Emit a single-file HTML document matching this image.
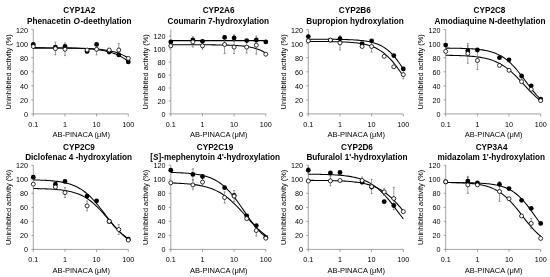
<!DOCTYPE html><html><head><meta charset="utf-8"><style>html,body{margin:0;padding:0;background:#fff;width:550px;height:277px;overflow:hidden}svg{display:block}</style></head><body>
<svg width="550" height="277" viewBox="0 0 550 277" font-family="Liberation Sans, Arial, sans-serif">
<rect width="550" height="277" fill="#fff"/>
<text x="79.3" y="13.4" font-size="8.2" font-weight="bold" text-anchor="middle" fill="#000">CYP1A2</text>
<text x="79.3" y="24.1" font-size="8.2" font-weight="bold" text-anchor="middle" fill="#000">Phenacetin <tspan font-style="italic" dx="0.4">O</tspan><tspan dx="0.8">-deethylation</tspan></text>
<path d="M33.3 29.6V113.9H128.3" fill="none" stroke="#8c8c8c" stroke-width="0.8"/>
<path d="M31.3 113.9H33.3" stroke="#8c8c8c" stroke-width="0.8"/>
<text x="28.1" y="116.8" font-size="7.2" text-anchor="end" fill="#000">0</text>
<path d="M31.3 99.9H33.3" stroke="#8c8c8c" stroke-width="0.8"/>
<text x="28.1" y="102.8" font-size="7.2" text-anchor="end" fill="#000">20</text>
<path d="M31.3 85.8H33.3" stroke="#8c8c8c" stroke-width="0.8"/>
<text x="28.1" y="88.7" font-size="7.2" text-anchor="end" fill="#000">40</text>
<path d="M31.3 71.8H33.3" stroke="#8c8c8c" stroke-width="0.8"/>
<text x="28.1" y="74.7" font-size="7.2" text-anchor="end" fill="#000">60</text>
<path d="M31.3 57.7H33.3" stroke="#8c8c8c" stroke-width="0.8"/>
<text x="28.1" y="60.6" font-size="7.2" text-anchor="end" fill="#000">80</text>
<path d="M31.3 43.6H33.3" stroke="#8c8c8c" stroke-width="0.8"/>
<text x="28.1" y="46.5" font-size="7.2" text-anchor="end" fill="#000">100</text>
<path d="M31.3 29.6H33.3" stroke="#8c8c8c" stroke-width="0.8"/>
<text x="28.1" y="32.5" font-size="7.2" text-anchor="end" fill="#000">120</text>
<path d="M33.3 113.9V116.4" stroke="#8c8c8c" stroke-width="0.8"/>
<text x="33.3" y="126.5" font-size="7.2" text-anchor="middle" fill="#000">0.1</text>
<path d="M65.0 113.9V116.4" stroke="#8c8c8c" stroke-width="0.8"/>
<text x="65.0" y="126.5" font-size="7.2" text-anchor="middle" fill="#000">1</text>
<path d="M96.6 113.9V116.4" stroke="#8c8c8c" stroke-width="0.8"/>
<text x="96.6" y="126.5" font-size="7.2" text-anchor="middle" fill="#000">10</text>
<path d="M128.3 113.9V116.4" stroke="#8c8c8c" stroke-width="0.8"/>
<text x="128.3" y="126.5" font-size="7.2" text-anchor="middle" fill="#000">100</text>
<text x="81.3" y="137.2" font-size="7.5" text-anchor="middle" fill="#000">AB-PINACA (μM)</text>
<text transform="translate(10.9 71.8) rotate(-90)" font-size="7.4" text-anchor="middle" fill="#000">Uninhibited activity (%)</text>
<polyline points="33.30,47.88 34.88,47.88 36.47,47.89 38.05,47.89 39.63,47.89 41.22,47.90 42.80,47.90 44.38,47.90 45.97,47.91 47.55,47.91 49.13,47.92 50.72,47.93 52.30,47.93 53.88,47.94 55.47,47.95 57.05,47.96 58.63,47.97 60.22,47.99 61.80,48.00 63.38,48.02 64.97,48.04 66.55,48.06 68.13,48.08 69.72,48.11 71.30,48.14 72.88,48.17 74.47,48.21 76.05,48.25 77.63,48.29 79.22,48.34 80.80,48.40 82.38,48.47 83.97,48.54 85.55,48.62 87.13,48.71 88.72,48.82 90.30,48.93 91.88,49.06 93.47,49.20 95.05,49.36 96.63,49.54 98.22,49.73 99.80,49.96 101.38,50.20 102.97,50.48 104.55,50.78 106.13,51.12 107.72,51.49 109.30,51.91 110.88,52.37 112.47,52.88 114.05,53.44 115.63,54.05 117.22,54.73 118.80,55.47 120.38,56.28 121.97,57.16 123.55,58.12 125.13,59.16 126.72,60.28 128.30,61.48" fill="none" stroke="#000" stroke-width="1.05"/>
<polyline points="33.30,47.88 34.88,47.88 36.47,47.88 38.05,47.88 39.63,47.88 41.22,47.89 42.80,47.89 44.38,47.89 45.97,47.90 47.55,47.90 49.13,47.90 50.72,47.91 52.30,47.91 53.88,47.92 55.47,47.92 57.05,47.93 58.63,47.94 60.22,47.95 61.80,47.96 63.38,47.97 64.97,47.98 66.55,48.00 68.13,48.02 69.72,48.03 71.30,48.05 72.88,48.08 74.47,48.10 76.05,48.13 77.63,48.16 79.22,48.20 80.80,48.24 82.38,48.29 83.97,48.34 85.55,48.40 87.13,48.46 88.72,48.53 90.30,48.61 91.88,48.70 93.47,48.80 95.05,48.91 96.63,49.04 98.22,49.18 99.80,49.34 101.38,49.51 102.97,49.71 104.55,49.93 106.13,50.17 107.72,50.44 109.30,50.74 110.88,51.07 112.47,51.44 114.05,51.85 115.63,52.31 117.22,52.81 118.80,53.36 120.38,53.97 121.97,54.64 123.55,55.37 125.13,56.17 126.72,57.04 128.30,57.99" fill="none" stroke="#000" stroke-width="1.05"/>
<path d="M55.4 54.9V42.2M54.4 54.9h2M54.4 42.2h2" stroke="#555" stroke-width="0.6" fill="none"/>
<path d="M65.0 55.6V42.9M64.0 55.6h2M64.0 42.9h2" stroke="#555" stroke-width="0.6" fill="none"/>
<path d="M96.6 54.9V43.6M95.6 54.9h2M95.6 43.6h2" stroke="#555" stroke-width="0.6" fill="none"/>
<path d="M118.8 56.3V43.6M117.8 56.3h2M117.8 43.6h2" stroke="#555" stroke-width="0.6" fill="none"/>
<circle cx="33.3" cy="44.4" r="2.4" fill="#000"/>
<circle cx="55.4" cy="47.2" r="2.4" fill="#000"/>
<circle cx="65.0" cy="46.5" r="2.4" fill="#000"/>
<circle cx="87.1" cy="51.4" r="2.4" fill="#000"/>
<circle cx="96.6" cy="44.4" r="2.4" fill="#000"/>
<circle cx="109.2" cy="52.1" r="2.4" fill="#000"/>
<circle cx="118.8" cy="54.9" r="2.4" fill="#000"/>
<circle cx="128.3" cy="61.9" r="2.4" fill="#000"/>
<circle cx="33.3" cy="46.5" r="2.0" fill="#fff" stroke="#000" stroke-width="0.8"/>
<circle cx="55.4" cy="48.6" r="2.0" fill="#fff" stroke="#000" stroke-width="0.8"/>
<circle cx="65.0" cy="49.3" r="2.0" fill="#fff" stroke="#000" stroke-width="0.8"/>
<circle cx="87.1" cy="50.0" r="2.0" fill="#fff" stroke="#000" stroke-width="0.8"/>
<circle cx="96.6" cy="49.3" r="2.0" fill="#fff" stroke="#000" stroke-width="0.8"/>
<circle cx="109.2" cy="50.0" r="2.0" fill="#fff" stroke="#000" stroke-width="0.8"/>
<circle cx="118.8" cy="50.0" r="2.0" fill="#fff" stroke="#000" stroke-width="0.8"/>
<circle cx="128.3" cy="58.4" r="2.0" fill="#fff" stroke="#000" stroke-width="0.8"/>
<text x="218.6" y="13.4" font-size="8.2" font-weight="bold" text-anchor="middle" fill="#000">CYP2A6</text>
<text x="218.3" y="24.1" font-size="8.2" font-weight="bold" text-anchor="middle" fill="#000">Coumarin 7-hydroxylation</text>
<path d="M170.8 29.6V113.9H265.8" fill="none" stroke="#8c8c8c" stroke-width="0.8"/>
<path d="M168.8 113.9H170.8" stroke="#8c8c8c" stroke-width="0.8"/>
<text x="165.6" y="116.8" font-size="7.2" text-anchor="end" fill="#000">0</text>
<path d="M168.8 100.9H170.8" stroke="#8c8c8c" stroke-width="0.8"/>
<text x="165.6" y="103.8" font-size="7.2" text-anchor="end" fill="#000">20</text>
<path d="M168.8 88.0H170.8" stroke="#8c8c8c" stroke-width="0.8"/>
<text x="165.6" y="90.9" font-size="7.2" text-anchor="end" fill="#000">40</text>
<path d="M168.8 75.0H170.8" stroke="#8c8c8c" stroke-width="0.8"/>
<text x="165.6" y="77.9" font-size="7.2" text-anchor="end" fill="#000">60</text>
<path d="M168.8 62.0H170.8" stroke="#8c8c8c" stroke-width="0.8"/>
<text x="165.6" y="64.9" font-size="7.2" text-anchor="end" fill="#000">80</text>
<path d="M168.8 49.1H170.8" stroke="#8c8c8c" stroke-width="0.8"/>
<text x="165.6" y="52.0" font-size="7.2" text-anchor="end" fill="#000">100</text>
<path d="M168.8 36.1H170.8" stroke="#8c8c8c" stroke-width="0.8"/>
<text x="165.6" y="39.0" font-size="7.2" text-anchor="end" fill="#000">120</text>
<path d="M170.8 113.9V116.4" stroke="#8c8c8c" stroke-width="0.8"/>
<text x="170.8" y="126.5" font-size="7.2" text-anchor="middle" fill="#000">0.1</text>
<path d="M202.5 113.9V116.4" stroke="#8c8c8c" stroke-width="0.8"/>
<text x="202.5" y="126.5" font-size="7.2" text-anchor="middle" fill="#000">1</text>
<path d="M234.1 113.9V116.4" stroke="#8c8c8c" stroke-width="0.8"/>
<text x="234.1" y="126.5" font-size="7.2" text-anchor="middle" fill="#000">10</text>
<path d="M265.8 113.9V116.4" stroke="#8c8c8c" stroke-width="0.8"/>
<text x="265.8" y="126.5" font-size="7.2" text-anchor="middle" fill="#000">100</text>
<text x="218.8" y="137.2" font-size="7.5" text-anchor="middle" fill="#000">AB-PINACA (μM)</text>
<text transform="translate(148.4 71.8) rotate(-90)" font-size="7.4" text-anchor="middle" fill="#000">Uninhibited activity (%)</text>
<polyline points="170.80,40.62 172.38,40.62 173.97,40.62 175.55,40.62 177.13,40.62 178.72,40.62 180.30,40.62 181.88,40.62 183.47,40.62 185.05,40.62 186.63,40.62 188.22,40.62 189.80,40.62 191.38,40.62 192.97,40.62 194.55,40.62 196.13,40.62 197.72,40.62 199.30,40.62 200.88,40.62 202.47,40.62 204.05,40.62 205.63,40.62 207.22,40.62 208.80,40.62 210.38,40.62 211.97,40.62 213.55,40.62 215.13,40.62 216.72,40.62 218.30,40.62 219.88,40.62 221.47,40.62 223.05,40.62 224.63,40.62 226.22,40.62 227.80,40.62 229.38,40.62 230.97,40.62 232.55,40.62 234.13,40.62 235.72,40.62 237.30,40.62 238.88,40.62 240.47,40.63 242.05,40.63 243.63,40.63 245.22,40.63 246.80,40.63 248.38,40.63 249.97,40.63 251.55,40.63 253.13,40.63 254.72,40.63 256.30,40.63 257.88,40.63 259.47,40.63 261.05,40.63 262.63,40.63 264.22,40.63 265.80,40.63" fill="none" stroke="#000" stroke-width="1.05"/>
<polyline points="170.80,44.78 172.38,44.78 173.97,44.78 175.55,44.78 177.13,44.78 178.72,44.78 180.30,44.78 181.88,44.78 183.47,44.78 185.05,44.78 186.63,44.78 188.22,44.78 189.80,44.79 191.38,44.79 192.97,44.79 194.55,44.79 196.13,44.80 197.72,44.80 199.30,44.80 200.88,44.81 202.47,44.81 204.05,44.82 205.63,44.82 207.22,44.83 208.80,44.84 210.38,44.85 211.97,44.86 213.55,44.87 215.13,44.89 216.72,44.91 218.30,44.92 219.88,44.95 221.47,44.97 223.05,45.00 224.63,45.04 226.22,45.07 227.80,45.12 229.38,45.17 230.97,45.23 232.55,45.29 234.13,45.37 235.72,45.46 237.30,45.56 238.88,45.67 240.47,45.80 242.05,45.95 243.63,46.13 245.22,46.32 246.80,46.54 248.38,46.80 249.97,47.09 251.55,47.42 253.13,47.79 254.72,48.22 256.30,48.70 257.88,49.24 259.47,49.86 261.05,50.55 262.63,51.32 264.22,52.19 265.80,53.16" fill="none" stroke="#000" stroke-width="1.05"/>
<path d="M234.1 41.3V34.8M233.1 41.3h2M233.1 34.8h2" stroke="#555" stroke-width="0.6" fill="none"/>
<path d="M192.9 47.1V36.7M191.9 47.1h2M191.9 36.7h2" stroke="#555" stroke-width="0.6" fill="none"/>
<path d="M202.5 49.1V42.6M201.5 49.1h2M201.5 42.6h2" stroke="#555" stroke-width="0.6" fill="none"/>
<path d="M224.6 53.6V35.4M223.6 53.6h2M223.6 35.4h2" stroke="#555" stroke-width="0.6" fill="none"/>
<path d="M234.1 53.6V40.6M233.1 53.6h2M233.1 40.6h2" stroke="#555" stroke-width="0.6" fill="none"/>
<path d="M246.7 52.9V41.3M245.7 52.9h2M245.7 41.3h2" stroke="#555" stroke-width="0.6" fill="none"/>
<path d="M256.3 54.2V36.1M255.3 54.2h2M255.3 36.1h2" stroke="#555" stroke-width="0.6" fill="none"/>
<circle cx="170.8" cy="41.9" r="2.4" fill="#000"/>
<circle cx="192.9" cy="40.0" r="2.4" fill="#000"/>
<circle cx="202.5" cy="41.3" r="2.4" fill="#000"/>
<circle cx="224.6" cy="37.4" r="2.4" fill="#000"/>
<circle cx="234.1" cy="38.0" r="2.4" fill="#000"/>
<circle cx="246.7" cy="40.6" r="2.4" fill="#000"/>
<circle cx="256.3" cy="40.0" r="2.4" fill="#000"/>
<circle cx="265.8" cy="41.9" r="2.4" fill="#000"/>
<circle cx="170.8" cy="45.8" r="2.0" fill="#fff" stroke="#000" stroke-width="0.8"/>
<circle cx="192.9" cy="41.9" r="2.0" fill="#fff" stroke="#000" stroke-width="0.8"/>
<circle cx="202.5" cy="45.8" r="2.0" fill="#fff" stroke="#000" stroke-width="0.8"/>
<circle cx="224.6" cy="44.5" r="2.0" fill="#fff" stroke="#000" stroke-width="0.8"/>
<circle cx="234.1" cy="47.1" r="2.0" fill="#fff" stroke="#000" stroke-width="0.8"/>
<circle cx="246.7" cy="47.1" r="2.0" fill="#fff" stroke="#000" stroke-width="0.8"/>
<circle cx="256.3" cy="45.2" r="2.0" fill="#fff" stroke="#000" stroke-width="0.8"/>
<circle cx="265.8" cy="54.2" r="2.0" fill="#fff" stroke="#000" stroke-width="0.8"/>
<text x="354.8" y="13.4" font-size="8.2" font-weight="bold" text-anchor="middle" fill="#000">CYP2B6</text>
<text x="355.0" y="24.1" font-size="8.2" font-weight="bold" text-anchor="middle" fill="#000">Bupropion hydroxylation</text>
<path d="M308.3 29.6V113.9H403.3" fill="none" stroke="#8c8c8c" stroke-width="0.8"/>
<path d="M306.3 113.9H308.3" stroke="#8c8c8c" stroke-width="0.8"/>
<text x="303.1" y="116.8" font-size="7.2" text-anchor="end" fill="#000">0</text>
<path d="M306.3 99.9H308.3" stroke="#8c8c8c" stroke-width="0.8"/>
<text x="303.1" y="102.8" font-size="7.2" text-anchor="end" fill="#000">20</text>
<path d="M306.3 85.8H308.3" stroke="#8c8c8c" stroke-width="0.8"/>
<text x="303.1" y="88.7" font-size="7.2" text-anchor="end" fill="#000">40</text>
<path d="M306.3 71.8H308.3" stroke="#8c8c8c" stroke-width="0.8"/>
<text x="303.1" y="74.7" font-size="7.2" text-anchor="end" fill="#000">60</text>
<path d="M306.3 57.7H308.3" stroke="#8c8c8c" stroke-width="0.8"/>
<text x="303.1" y="60.6" font-size="7.2" text-anchor="end" fill="#000">80</text>
<path d="M306.3 43.6H308.3" stroke="#8c8c8c" stroke-width="0.8"/>
<text x="303.1" y="46.5" font-size="7.2" text-anchor="end" fill="#000">100</text>
<path d="M306.3 29.6H308.3" stroke="#8c8c8c" stroke-width="0.8"/>
<text x="303.1" y="32.5" font-size="7.2" text-anchor="end" fill="#000">120</text>
<path d="M308.3 113.9V116.4" stroke="#8c8c8c" stroke-width="0.8"/>
<text x="308.3" y="126.5" font-size="7.2" text-anchor="middle" fill="#000">0.1</text>
<path d="M340.0 113.9V116.4" stroke="#8c8c8c" stroke-width="0.8"/>
<text x="340.0" y="126.5" font-size="7.2" text-anchor="middle" fill="#000">1</text>
<path d="M371.6 113.9V116.4" stroke="#8c8c8c" stroke-width="0.8"/>
<text x="371.6" y="126.5" font-size="7.2" text-anchor="middle" fill="#000">10</text>
<path d="M403.3 113.9V116.4" stroke="#8c8c8c" stroke-width="0.8"/>
<text x="403.3" y="126.5" font-size="7.2" text-anchor="middle" fill="#000">100</text>
<text x="356.3" y="137.2" font-size="7.5" text-anchor="middle" fill="#000">AB-PINACA (μM)</text>
<text transform="translate(285.9 71.8) rotate(-90)" font-size="7.4" text-anchor="middle" fill="#000">Uninhibited activity (%)</text>
<polyline points="308.30,39.24 309.88,39.24 311.47,39.24 313.05,39.24 314.63,39.25 316.22,39.25 317.80,39.25 319.38,39.26 320.97,39.26 322.55,39.27 324.13,39.27 325.72,39.28 327.30,39.29 328.88,39.30 330.47,39.31 332.05,39.32 333.63,39.34 335.22,39.35 336.80,39.37 338.38,39.40 339.97,39.42 341.55,39.45 343.13,39.48 344.72,39.52 346.30,39.57 347.88,39.62 349.47,39.67 351.05,39.74 352.63,39.82 354.22,39.90 355.80,40.00 357.38,40.12 358.97,40.25 360.55,40.40 362.13,40.57 363.72,40.76 365.30,40.98 366.88,41.24 368.47,41.53 370.05,41.85 371.63,42.23 373.22,42.65 374.80,43.13 376.38,43.68 377.97,44.29 379.55,44.99 381.13,45.77 382.72,46.64 384.30,47.62 385.88,48.70 387.47,49.90 389.05,51.23 390.63,52.69 392.22,54.28 393.80,56.01 395.38,57.88 396.97,59.88 398.55,62.00 400.13,64.25 401.72,66.60 403.30,69.03" fill="none" stroke="#000" stroke-width="1.05"/>
<polyline points="308.30,41.44 309.88,41.44 311.47,41.44 313.05,41.45 314.63,41.46 316.22,41.46 317.80,41.47 319.38,41.48 320.97,41.49 322.55,41.51 324.13,41.52 325.72,41.54 327.30,41.55 328.88,41.57 330.47,41.60 332.05,41.62 333.63,41.65 335.22,41.69 336.80,41.72 338.38,41.77 339.97,41.82 341.55,41.87 343.13,41.94 344.72,42.01 346.30,42.09 347.88,42.18 349.47,42.28 351.05,42.40 352.63,42.53 354.22,42.68 355.80,42.85 357.38,43.04 358.97,43.26 360.55,43.50 362.13,43.78 363.72,44.09 365.30,44.43 366.88,44.82 368.47,45.26 370.05,45.75 371.63,46.30 373.22,46.91 374.80,47.59 376.38,48.34 377.97,49.18 379.55,50.10 381.13,51.12 382.72,52.23 384.30,53.45 385.88,54.78 387.47,56.22 389.05,57.77 390.63,59.43 392.22,61.20 393.80,63.07 395.38,65.04 396.97,67.10 398.55,69.24 400.13,71.44 401.72,73.69 403.30,75.97" fill="none" stroke="#000" stroke-width="1.05"/>
<path d="M340.0 40.8V36.6M339.0 40.8h2M339.0 36.6h2" stroke="#555" stroke-width="0.6" fill="none"/>
<path d="M340.0 50.0V35.9M339.0 50.0h2M339.0 35.9h2" stroke="#555" stroke-width="0.6" fill="none"/>
<path d="M371.6 52.1V40.8M370.6 52.1h2M370.6 40.8h2" stroke="#555" stroke-width="0.6" fill="none"/>
<path d="M403.3 78.8V70.3M402.3 78.8h2M402.3 70.3h2" stroke="#555" stroke-width="0.6" fill="none"/>
<circle cx="308.3" cy="36.6" r="2.4" fill="#000"/>
<circle cx="330.4" cy="40.1" r="2.4" fill="#000"/>
<circle cx="340.0" cy="38.7" r="2.4" fill="#000"/>
<circle cx="362.1" cy="43.6" r="2.4" fill="#000"/>
<circle cx="371.6" cy="40.8" r="2.4" fill="#000"/>
<circle cx="393.8" cy="55.6" r="2.4" fill="#000"/>
<circle cx="403.3" cy="68.9" r="2.4" fill="#000"/>
<circle cx="308.3" cy="40.8" r="2.0" fill="#fff" stroke="#000" stroke-width="0.8"/>
<circle cx="330.4" cy="40.1" r="2.0" fill="#fff" stroke="#000" stroke-width="0.8"/>
<circle cx="340.0" cy="42.9" r="2.0" fill="#fff" stroke="#000" stroke-width="0.8"/>
<circle cx="362.1" cy="46.5" r="2.0" fill="#fff" stroke="#000" stroke-width="0.8"/>
<circle cx="371.6" cy="46.5" r="2.0" fill="#fff" stroke="#000" stroke-width="0.8"/>
<circle cx="384.2" cy="56.3" r="2.0" fill="#fff" stroke="#000" stroke-width="0.8"/>
<circle cx="393.8" cy="66.8" r="2.0" fill="#fff" stroke="#000" stroke-width="0.8"/>
<circle cx="403.3" cy="74.6" r="2.0" fill="#fff" stroke="#000" stroke-width="0.8"/>
<text x="489.5" y="13.4" font-size="8.2" font-weight="bold" text-anchor="middle" fill="#000">CYP2C8</text>
<text x="490.1" y="24.1" font-size="8.2" font-weight="bold" text-anchor="middle" fill="#000">Amodiaquine N-deethylation</text>
<path d="M445.7 29.6V113.9H540.7" fill="none" stroke="#8c8c8c" stroke-width="0.8"/>
<path d="M443.7 113.9H445.7" stroke="#8c8c8c" stroke-width="0.8"/>
<text x="440.5" y="116.8" font-size="7.2" text-anchor="end" fill="#000">0</text>
<path d="M443.7 99.9H445.7" stroke="#8c8c8c" stroke-width="0.8"/>
<text x="440.5" y="102.8" font-size="7.2" text-anchor="end" fill="#000">20</text>
<path d="M443.7 85.8H445.7" stroke="#8c8c8c" stroke-width="0.8"/>
<text x="440.5" y="88.7" font-size="7.2" text-anchor="end" fill="#000">40</text>
<path d="M443.7 71.8H445.7" stroke="#8c8c8c" stroke-width="0.8"/>
<text x="440.5" y="74.7" font-size="7.2" text-anchor="end" fill="#000">60</text>
<path d="M443.7 57.7H445.7" stroke="#8c8c8c" stroke-width="0.8"/>
<text x="440.5" y="60.6" font-size="7.2" text-anchor="end" fill="#000">80</text>
<path d="M443.7 43.6H445.7" stroke="#8c8c8c" stroke-width="0.8"/>
<text x="440.5" y="46.5" font-size="7.2" text-anchor="end" fill="#000">100</text>
<path d="M443.7 29.6H445.7" stroke="#8c8c8c" stroke-width="0.8"/>
<text x="440.5" y="32.5" font-size="7.2" text-anchor="end" fill="#000">120</text>
<path d="M445.7 113.9V116.4" stroke="#8c8c8c" stroke-width="0.8"/>
<text x="445.7" y="126.5" font-size="7.2" text-anchor="middle" fill="#000">0.1</text>
<path d="M477.4 113.9V116.4" stroke="#8c8c8c" stroke-width="0.8"/>
<text x="477.4" y="126.5" font-size="7.2" text-anchor="middle" fill="#000">1</text>
<path d="M509.0 113.9V116.4" stroke="#8c8c8c" stroke-width="0.8"/>
<text x="509.0" y="126.5" font-size="7.2" text-anchor="middle" fill="#000">10</text>
<path d="M540.7 113.9V116.4" stroke="#8c8c8c" stroke-width="0.8"/>
<text x="540.7" y="126.5" font-size="7.2" text-anchor="middle" fill="#000">100</text>
<text x="493.7" y="137.2" font-size="7.5" text-anchor="middle" fill="#000">AB-PINACA (μM)</text>
<text transform="translate(423.3 71.8) rotate(-90)" font-size="7.4" text-anchor="middle" fill="#000">Uninhibited activity (%)</text>
<polyline points="445.70,48.11 447.28,48.12 448.87,48.13 450.45,48.15 452.03,48.17 453.62,48.20 455.20,48.22 456.78,48.25 458.37,48.28 459.95,48.32 461.53,48.37 463.12,48.42 464.70,48.47 466.28,48.54 467.87,48.61 469.45,48.69 471.03,48.78 472.62,48.89 474.20,49.01 475.78,49.14 477.37,49.30 478.95,49.47 480.53,49.67 482.12,49.89 483.70,50.14 485.28,50.42 486.87,50.74 488.45,51.10 490.03,51.50 491.62,51.96 493.20,52.46 494.78,53.03 496.37,53.66 497.95,54.37 499.53,55.15 501.12,56.01 502.70,56.96 504.28,58.01 505.87,59.15 507.45,60.40 509.03,61.75 510.62,63.20 512.20,64.76 513.78,66.42 515.37,68.18 516.95,70.03 518.53,71.96 520.12,73.96 521.70,76.01 523.28,78.11 524.87,80.22 526.45,82.35 528.03,84.46 529.62,86.54 531.20,88.58 532.78,90.56 534.37,92.46 535.95,94.28 537.53,96.01 539.12,97.64 540.70,99.17" fill="none" stroke="#000" stroke-width="1.05"/>
<polyline points="445.70,55.28 447.28,55.30 448.87,55.33 450.45,55.36 452.03,55.39 453.62,55.42 455.20,55.46 456.78,55.51 458.37,55.56 459.95,55.61 461.53,55.68 463.12,55.75 464.70,55.83 466.28,55.92 467.87,56.02 469.45,56.13 471.03,56.25 472.62,56.39 474.20,56.55 475.78,56.73 477.37,56.92 478.95,57.14 480.53,57.39 482.12,57.66 483.70,57.96 485.28,58.30 486.87,58.68 488.45,59.09 490.03,59.55 491.62,60.06 493.20,60.62 494.78,61.24 496.37,61.91 497.95,62.65 499.53,63.46 501.12,64.34 502.70,65.29 504.28,66.32 505.87,67.42 507.45,68.60 509.03,69.86 510.62,71.20 512.20,72.61 513.78,74.08 515.37,75.62 516.95,77.22 518.53,78.86 520.12,80.54 521.70,82.25 523.28,83.97 524.87,85.69 526.45,87.41 528.03,89.11 529.62,90.78 531.20,92.40 532.78,93.98 534.37,95.49 535.95,96.94 537.53,98.33 539.12,99.63 540.70,100.86" fill="none" stroke="#000" stroke-width="1.05"/>
<path d="M467.8 55.6V45.8M466.8 55.6h2M466.8 45.8h2" stroke="#555" stroke-width="0.6" fill="none"/>
<path d="M467.8 63.3V43.6M466.8 63.3h2M466.8 43.6h2" stroke="#555" stroke-width="0.6" fill="none"/>
<path d="M477.4 69.6V51.4M476.4 69.6h2M476.4 51.4h2" stroke="#555" stroke-width="0.6" fill="none"/>
<circle cx="445.7" cy="45.1" r="2.4" fill="#000"/>
<circle cx="467.8" cy="50.7" r="2.4" fill="#000"/>
<circle cx="477.4" cy="50.0" r="2.4" fill="#000"/>
<circle cx="499.5" cy="57.7" r="2.4" fill="#000"/>
<circle cx="509.0" cy="59.8" r="2.4" fill="#000"/>
<circle cx="521.6" cy="76.0" r="2.4" fill="#000"/>
<circle cx="531.2" cy="85.8" r="2.4" fill="#000"/>
<circle cx="540.7" cy="99.1" r="2.4" fill="#000"/>
<circle cx="445.7" cy="51.4" r="2.0" fill="#fff" stroke="#000" stroke-width="0.8"/>
<circle cx="467.8" cy="53.5" r="2.0" fill="#fff" stroke="#000" stroke-width="0.8"/>
<circle cx="477.4" cy="60.5" r="2.0" fill="#fff" stroke="#000" stroke-width="0.8"/>
<circle cx="499.5" cy="65.4" r="2.0" fill="#fff" stroke="#000" stroke-width="0.8"/>
<circle cx="509.0" cy="70.3" r="2.0" fill="#fff" stroke="#000" stroke-width="0.8"/>
<circle cx="521.6" cy="81.6" r="2.0" fill="#fff" stroke="#000" stroke-width="0.8"/>
<circle cx="531.2" cy="89.3" r="2.0" fill="#fff" stroke="#000" stroke-width="0.8"/>
<circle cx="540.7" cy="100.6" r="2.0" fill="#fff" stroke="#000" stroke-width="0.8"/>
<text x="79.0" y="149.9" font-size="8.2" font-weight="bold" text-anchor="middle" fill="#000">CYP2C9</text>
<text x="78.6" y="160.0" font-size="8.2" font-weight="bold" text-anchor="middle" fill="#000">Diclofenac 4 -hydroxylation</text>
<path d="M33.3 165.3V249.4H128.3" fill="none" stroke="#8c8c8c" stroke-width="0.8"/>
<path d="M31.3 249.4H33.3" stroke="#8c8c8c" stroke-width="0.8"/>
<text x="28.1" y="252.3" font-size="7.2" text-anchor="end" fill="#000">0</text>
<path d="M31.3 235.4H33.3" stroke="#8c8c8c" stroke-width="0.8"/>
<text x="28.1" y="238.3" font-size="7.2" text-anchor="end" fill="#000">20</text>
<path d="M31.3 221.4H33.3" stroke="#8c8c8c" stroke-width="0.8"/>
<text x="28.1" y="224.3" font-size="7.2" text-anchor="end" fill="#000">40</text>
<path d="M31.3 207.4H33.3" stroke="#8c8c8c" stroke-width="0.8"/>
<text x="28.1" y="210.3" font-size="7.2" text-anchor="end" fill="#000">60</text>
<path d="M31.3 193.3H33.3" stroke="#8c8c8c" stroke-width="0.8"/>
<text x="28.1" y="196.2" font-size="7.2" text-anchor="end" fill="#000">80</text>
<path d="M31.3 179.3H33.3" stroke="#8c8c8c" stroke-width="0.8"/>
<text x="28.1" y="182.2" font-size="7.2" text-anchor="end" fill="#000">100</text>
<path d="M31.3 165.3H33.3" stroke="#8c8c8c" stroke-width="0.8"/>
<text x="28.1" y="168.2" font-size="7.2" text-anchor="end" fill="#000">120</text>
<path d="M33.3 249.4V251.9" stroke="#8c8c8c" stroke-width="0.8"/>
<text x="33.3" y="262.0" font-size="7.2" text-anchor="middle" fill="#000">0.1</text>
<path d="M65.0 249.4V251.9" stroke="#8c8c8c" stroke-width="0.8"/>
<text x="65.0" y="262.0" font-size="7.2" text-anchor="middle" fill="#000">1</text>
<path d="M96.6 249.4V251.9" stroke="#8c8c8c" stroke-width="0.8"/>
<text x="96.6" y="262.0" font-size="7.2" text-anchor="middle" fill="#000">10</text>
<path d="M128.3 249.4V251.9" stroke="#8c8c8c" stroke-width="0.8"/>
<text x="128.3" y="262.0" font-size="7.2" text-anchor="middle" fill="#000">100</text>
<text x="81.3" y="272.7" font-size="7.5" text-anchor="middle" fill="#000">AB-PINACA (μM)</text>
<text transform="translate(10.9 207.4) rotate(-90)" font-size="7.4" text-anchor="middle" fill="#000">Uninhibited activity (%)</text>
<polyline points="33.30,179.90 34.88,179.94 36.47,179.98 38.05,180.03 39.63,180.09 41.22,180.15 42.80,180.22 44.38,180.29 45.97,180.38 47.55,180.48 49.13,180.59 50.72,180.72 52.30,180.86 53.88,181.01 55.47,181.19 57.05,181.38 58.63,181.61 60.22,181.85 61.80,182.13 63.38,182.44 64.97,182.78 66.55,183.17 68.13,183.60 69.72,184.07 71.30,184.60 72.88,185.19 74.47,185.83 76.05,186.55 77.63,187.33 79.22,188.20 80.80,189.14 82.38,190.17 83.97,191.29 85.55,192.50 87.13,193.81 88.72,195.21 90.30,196.71 91.88,198.31 93.47,199.99 95.05,201.76 96.63,203.61 98.22,205.53 99.80,207.51 101.38,209.54 102.97,211.60 104.55,213.68 106.13,215.77 107.72,217.85 109.30,219.91 110.88,221.93 112.47,223.89 114.05,225.80 115.63,227.63 117.22,229.38 118.80,231.05 120.38,232.62 121.97,234.10 123.55,235.48 125.13,236.77 126.72,237.96 128.30,239.06" fill="none" stroke="#000" stroke-width="1.05"/>
<polyline points="33.30,188.55 34.88,188.57 36.47,188.60 38.05,188.63 39.63,188.67 41.22,188.71 42.80,188.75 44.38,188.81 45.97,188.86 47.55,188.93 49.13,189.00 50.72,189.09 52.30,189.18 53.88,189.28 55.47,189.40 57.05,189.53 58.63,189.68 60.22,189.85 61.80,190.04 63.38,190.25 64.97,190.49 66.55,190.76 68.13,191.05 69.72,191.39 71.30,191.76 72.88,192.17 74.47,192.63 76.05,193.14 77.63,193.71 79.22,194.33 80.80,195.03 82.38,195.79 83.97,196.62 85.55,197.53 87.13,198.52 88.72,199.60 90.30,200.76 91.88,202.01 93.47,203.35 95.05,204.77 96.63,206.28 98.22,207.86 99.80,209.51 101.38,211.23 102.97,213.00 104.55,214.81 106.13,216.65 107.72,218.51 109.30,220.37 110.88,222.22 112.47,224.05 114.05,225.84 115.63,227.58 117.22,229.26 118.80,230.87 120.38,232.40 121.97,233.86 123.55,235.23 125.13,236.51 126.72,237.71 128.30,238.82" fill="none" stroke="#000" stroke-width="1.05"/>
<path d="M55.4 189.8V184.2M54.4 189.8h2M54.4 184.2h2" stroke="#555" stroke-width="0.6" fill="none"/>
<path d="M65.0 197.5V187.7M64.0 197.5h2M64.0 187.7h2" stroke="#555" stroke-width="0.6" fill="none"/>
<path d="M87.1 210.9V201.0M86.1 210.9h2M86.1 201.0h2" stroke="#555" stroke-width="0.6" fill="none"/>
<path d="M118.8 234.4V224.6M117.8 234.4h2M117.8 224.6h2" stroke="#555" stroke-width="0.6" fill="none"/>
<circle cx="33.3" cy="177.2" r="2.4" fill="#000"/>
<circle cx="55.4" cy="184.2" r="2.4" fill="#000"/>
<circle cx="65.0" cy="181.4" r="2.4" fill="#000"/>
<circle cx="87.1" cy="196.1" r="2.4" fill="#000"/>
<circle cx="96.6" cy="200.8" r="2.4" fill="#000"/>
<circle cx="109.2" cy="221.4" r="2.4" fill="#000"/>
<circle cx="128.3" cy="239.2" r="2.4" fill="#000"/>
<circle cx="33.3" cy="184.2" r="2.0" fill="#fff" stroke="#000" stroke-width="0.8"/>
<circle cx="55.4" cy="187.0" r="2.0" fill="#fff" stroke="#000" stroke-width="0.8"/>
<circle cx="65.0" cy="192.6" r="2.0" fill="#fff" stroke="#000" stroke-width="0.8"/>
<circle cx="87.1" cy="205.9" r="2.0" fill="#fff" stroke="#000" stroke-width="0.8"/>
<circle cx="109.2" cy="221.3" r="2.0" fill="#fff" stroke="#000" stroke-width="0.8"/>
<circle cx="118.8" cy="229.5" r="2.0" fill="#fff" stroke="#000" stroke-width="0.8"/>
<circle cx="128.3" cy="240.1" r="2.0" fill="#fff" stroke="#000" stroke-width="0.8"/>
<text x="215.0" y="149.9" font-size="8.2" font-weight="bold" text-anchor="middle" fill="#000">CYP2C19</text>
<text x="215.2" y="160.0" font-size="8.2" font-weight="bold" text-anchor="middle" fill="#000">[<tspan font-style="italic">S</tspan>]-mephenytoin 4'-hydroxylation</text>
<path d="M170.8 165.3V249.4H265.8" fill="none" stroke="#8c8c8c" stroke-width="0.8"/>
<path d="M168.8 249.4H170.8" stroke="#8c8c8c" stroke-width="0.8"/>
<text x="165.6" y="252.3" font-size="7.2" text-anchor="end" fill="#000">0</text>
<path d="M168.8 235.4H170.8" stroke="#8c8c8c" stroke-width="0.8"/>
<text x="165.6" y="238.3" font-size="7.2" text-anchor="end" fill="#000">20</text>
<path d="M168.8 221.4H170.8" stroke="#8c8c8c" stroke-width="0.8"/>
<text x="165.6" y="224.3" font-size="7.2" text-anchor="end" fill="#000">40</text>
<path d="M168.8 207.4H170.8" stroke="#8c8c8c" stroke-width="0.8"/>
<text x="165.6" y="210.3" font-size="7.2" text-anchor="end" fill="#000">60</text>
<path d="M168.8 193.3H170.8" stroke="#8c8c8c" stroke-width="0.8"/>
<text x="165.6" y="196.2" font-size="7.2" text-anchor="end" fill="#000">80</text>
<path d="M168.8 179.3H170.8" stroke="#8c8c8c" stroke-width="0.8"/>
<text x="165.6" y="182.2" font-size="7.2" text-anchor="end" fill="#000">100</text>
<path d="M168.8 165.3H170.8" stroke="#8c8c8c" stroke-width="0.8"/>
<text x="165.6" y="168.2" font-size="7.2" text-anchor="end" fill="#000">120</text>
<path d="M170.8 249.4V251.9" stroke="#8c8c8c" stroke-width="0.8"/>
<text x="170.8" y="262.0" font-size="7.2" text-anchor="middle" fill="#000">0.1</text>
<path d="M202.5 249.4V251.9" stroke="#8c8c8c" stroke-width="0.8"/>
<text x="202.5" y="262.0" font-size="7.2" text-anchor="middle" fill="#000">1</text>
<path d="M234.1 249.4V251.9" stroke="#8c8c8c" stroke-width="0.8"/>
<text x="234.1" y="262.0" font-size="7.2" text-anchor="middle" fill="#000">10</text>
<path d="M265.8 249.4V251.9" stroke="#8c8c8c" stroke-width="0.8"/>
<text x="265.8" y="262.0" font-size="7.2" text-anchor="middle" fill="#000">100</text>
<text x="218.8" y="272.7" font-size="7.5" text-anchor="middle" fill="#000">AB-PINACA (μM)</text>
<text transform="translate(148.4 207.4) rotate(-90)" font-size="7.4" text-anchor="middle" fill="#000">Uninhibited activity (%)</text>
<polyline points="170.80,172.47 172.38,172.51 173.97,172.56 175.55,172.60 177.13,172.66 178.72,172.72 180.30,172.79 181.88,172.87 183.47,172.96 185.05,173.06 186.63,173.17 188.22,173.29 189.80,173.43 191.38,173.59 192.97,173.77 194.55,173.97 196.13,174.19 197.72,174.44 199.30,174.72 200.88,175.03 202.47,175.38 204.05,175.77 205.63,176.21 207.22,176.69 208.80,177.23 210.38,177.83 211.97,178.49 213.55,179.22 215.13,180.02 216.72,180.91 218.30,181.88 219.88,182.95 221.47,184.10 223.05,185.36 224.63,186.73 226.22,188.19 227.80,189.77 229.38,191.45 230.97,193.23 232.55,195.11 234.13,197.09 235.72,199.15 237.30,201.29 238.88,203.49 240.47,205.74 242.05,208.03 243.63,210.34 245.22,212.65 246.80,214.95 248.38,217.21 249.97,219.44 251.55,221.60 253.13,223.69 254.72,225.70 256.30,227.62 257.88,229.45 259.47,231.17 261.05,232.78 262.63,234.29 264.22,235.69 265.80,236.99" fill="none" stroke="#000" stroke-width="1.05"/>
<polyline points="170.80,182.98 172.38,183.03 173.97,183.08 175.55,183.14 177.13,183.21 178.72,183.28 180.30,183.36 181.88,183.46 183.47,183.56 185.05,183.67 186.63,183.79 188.22,183.93 189.80,184.08 191.38,184.25 192.97,184.43 194.55,184.64 196.13,184.86 197.72,185.11 199.30,185.39 200.88,185.69 202.47,186.03 204.05,186.39 205.63,186.80 207.22,187.24 208.80,187.72 210.38,188.25 211.97,188.83 213.55,189.46 215.13,190.14 216.72,190.89 218.30,191.69 219.88,192.56 221.47,193.50 223.05,194.50 224.63,195.58 226.22,196.73 227.80,197.95 229.38,199.24 230.97,200.60 232.55,202.03 234.13,203.52 235.72,205.08 237.30,206.69 238.88,208.34 240.47,210.04 242.05,211.77 243.63,213.52 245.22,215.29 246.80,217.06 248.38,218.82 249.97,220.57 251.55,222.29 253.13,223.98 254.72,225.63 256.30,227.23 257.88,228.77 259.47,230.25 261.05,231.66 262.63,233.01 264.22,234.28 265.80,235.48" fill="none" stroke="#000" stroke-width="1.05"/>
<path d="M192.9 180.0V168.8M191.9 180.0h2M191.9 168.8h2" stroke="#555" stroke-width="0.6" fill="none"/>
<path d="M192.9 189.8V180.0M191.9 189.8h2M191.9 180.0h2" stroke="#555" stroke-width="0.6" fill="none"/>
<path d="M202.5 186.3V177.9M201.5 186.3h2M201.5 177.9h2" stroke="#555" stroke-width="0.6" fill="none"/>
<path d="M224.6 203.1V191.9M223.6 203.1h2M223.6 191.9h2" stroke="#555" stroke-width="0.6" fill="none"/>
<path d="M234.1 201.7V190.5M233.1 201.7h2M233.1 190.5h2" stroke="#555" stroke-width="0.6" fill="none"/>
<path d="M256.3 236.1V224.9M255.3 236.1h2M255.3 224.9h2" stroke="#555" stroke-width="0.6" fill="none"/>
<circle cx="170.8" cy="170.2" r="2.4" fill="#000"/>
<circle cx="192.9" cy="174.4" r="2.4" fill="#000"/>
<circle cx="202.5" cy="176.5" r="2.4" fill="#000"/>
<circle cx="224.6" cy="187.7" r="2.4" fill="#000"/>
<circle cx="234.1" cy="195.4" r="2.4" fill="#000"/>
<circle cx="246.7" cy="215.8" r="2.4" fill="#000"/>
<circle cx="256.3" cy="225.6" r="2.4" fill="#000"/>
<circle cx="265.8" cy="237.5" r="2.4" fill="#000"/>
<circle cx="170.8" cy="182.8" r="2.0" fill="#fff" stroke="#000" stroke-width="0.8"/>
<circle cx="192.9" cy="184.9" r="2.0" fill="#fff" stroke="#000" stroke-width="0.8"/>
<circle cx="202.5" cy="182.1" r="2.0" fill="#fff" stroke="#000" stroke-width="0.8"/>
<circle cx="224.6" cy="197.5" r="2.0" fill="#fff" stroke="#000" stroke-width="0.8"/>
<circle cx="234.1" cy="196.1" r="2.0" fill="#fff" stroke="#000" stroke-width="0.8"/>
<circle cx="246.7" cy="218.6" r="2.0" fill="#fff" stroke="#000" stroke-width="0.8"/>
<circle cx="256.3" cy="230.5" r="2.0" fill="#fff" stroke="#000" stroke-width="0.8"/>
<circle cx="265.8" cy="238.2" r="2.0" fill="#fff" stroke="#000" stroke-width="0.8"/>
<text x="357.0" y="149.9" font-size="8.2" font-weight="bold" text-anchor="middle" fill="#000">CYP2D6</text>
<text x="357.0" y="160.0" font-size="8.2" font-weight="bold" text-anchor="middle" fill="#000">Bufuralol 1'-hydroxylation</text>
<path d="M308.3 165.3V249.4H403.3" fill="none" stroke="#8c8c8c" stroke-width="0.8"/>
<path d="M306.3 249.4H308.3" stroke="#8c8c8c" stroke-width="0.8"/>
<text x="303.1" y="252.3" font-size="7.2" text-anchor="end" fill="#000">0</text>
<path d="M306.3 235.4H308.3" stroke="#8c8c8c" stroke-width="0.8"/>
<text x="303.1" y="238.3" font-size="7.2" text-anchor="end" fill="#000">20</text>
<path d="M306.3 221.4H308.3" stroke="#8c8c8c" stroke-width="0.8"/>
<text x="303.1" y="224.3" font-size="7.2" text-anchor="end" fill="#000">40</text>
<path d="M306.3 207.4H308.3" stroke="#8c8c8c" stroke-width="0.8"/>
<text x="303.1" y="210.3" font-size="7.2" text-anchor="end" fill="#000">60</text>
<path d="M306.3 193.3H308.3" stroke="#8c8c8c" stroke-width="0.8"/>
<text x="303.1" y="196.2" font-size="7.2" text-anchor="end" fill="#000">80</text>
<path d="M306.3 179.3H308.3" stroke="#8c8c8c" stroke-width="0.8"/>
<text x="303.1" y="182.2" font-size="7.2" text-anchor="end" fill="#000">100</text>
<path d="M306.3 165.3H308.3" stroke="#8c8c8c" stroke-width="0.8"/>
<text x="303.1" y="168.2" font-size="7.2" text-anchor="end" fill="#000">120</text>
<path d="M308.3 249.4V251.9" stroke="#8c8c8c" stroke-width="0.8"/>
<text x="308.3" y="262.0" font-size="7.2" text-anchor="middle" fill="#000">0.1</text>
<path d="M340.0 249.4V251.9" stroke="#8c8c8c" stroke-width="0.8"/>
<text x="340.0" y="262.0" font-size="7.2" text-anchor="middle" fill="#000">1</text>
<path d="M371.6 249.4V251.9" stroke="#8c8c8c" stroke-width="0.8"/>
<text x="371.6" y="262.0" font-size="7.2" text-anchor="middle" fill="#000">10</text>
<path d="M403.3 249.4V251.9" stroke="#8c8c8c" stroke-width="0.8"/>
<text x="403.3" y="262.0" font-size="7.2" text-anchor="middle" fill="#000">100</text>
<text x="356.3" y="272.7" font-size="7.5" text-anchor="middle" fill="#000">AB-PINACA (μM)</text>
<text transform="translate(285.9 207.4) rotate(-90)" font-size="7.4" text-anchor="middle" fill="#000">Uninhibited activity (%)</text>
<polyline points="308.30,174.19 309.88,174.20 311.47,174.22 313.05,174.24 314.63,174.26 316.22,174.28 317.80,174.31 319.38,174.34 320.97,174.37 322.55,174.41 324.13,174.45 325.72,174.50 327.30,174.55 328.88,174.61 330.47,174.67 332.05,174.74 333.63,174.82 335.22,174.91 336.80,175.02 338.38,175.13 339.97,175.25 341.55,175.39 343.13,175.55 344.72,175.72 346.30,175.92 347.88,176.13 349.47,176.37 351.05,176.64 352.63,176.94 354.22,177.27 355.80,177.63 357.38,178.03 358.97,178.48 360.55,178.97 362.13,179.52 363.72,180.12 365.30,180.78 366.88,181.50 368.47,182.29 370.05,183.16 371.63,184.10 373.22,185.12 374.80,186.23 376.38,187.42 377.97,188.71 379.55,190.09 381.13,191.56 382.72,193.12 384.30,194.77 385.88,196.50 387.47,198.32 389.05,200.21 390.63,202.17 392.22,204.19 393.80,206.25 395.38,208.34 396.97,210.46 398.55,212.58 400.13,214.70 401.72,216.80 403.30,218.87" fill="none" stroke="#000" stroke-width="1.05"/>
<polyline points="308.30,180.36 309.88,180.37 311.47,180.38 313.05,180.39 314.63,180.40 316.22,180.41 317.80,180.42 319.38,180.44 320.97,180.45 322.55,180.47 324.13,180.49 325.72,180.52 327.30,180.54 328.88,180.57 330.47,180.60 332.05,180.64 333.63,180.68 335.22,180.73 336.80,180.78 338.38,180.83 339.97,180.90 341.55,180.97 343.13,181.05 344.72,181.14 346.30,181.23 347.88,181.34 349.47,181.47 351.05,181.60 352.63,181.76 354.22,181.93 355.80,182.12 357.38,182.33 358.97,182.56 360.55,182.82 362.13,183.11 363.72,183.43 365.30,183.79 366.88,184.18 368.47,184.62 370.05,185.10 371.63,185.63 373.22,186.21 374.80,186.85 376.38,187.55 377.97,188.31 379.55,189.15 381.13,190.06 382.72,191.04 384.30,192.10 385.88,193.25 387.47,194.48 389.05,195.79 390.63,197.19 392.22,198.67 393.80,200.23 395.38,201.87 396.97,203.58 398.55,205.35 400.13,207.18 401.72,209.06 403.30,210.97" fill="none" stroke="#000" stroke-width="1.05"/>
<path d="M308.3 173.0V167.4M307.3 173.0h2M307.3 167.4h2" stroke="#555" stroke-width="0.6" fill="none"/>
<path d="M330.4 185.8V176.0M329.4 185.8h2M329.4 176.0h2" stroke="#555" stroke-width="0.6" fill="none"/>
<path d="M362.1 184.0V177.0M361.1 184.0h2M361.1 177.0h2" stroke="#555" stroke-width="0.6" fill="none"/>
<path d="M371.6 193.6V179.6M370.6 193.6h2M370.6 179.6h2" stroke="#555" stroke-width="0.6" fill="none"/>
<path d="M384.2 195.4V188.4M383.2 195.4h2M383.2 188.4h2" stroke="#555" stroke-width="0.6" fill="none"/>
<path d="M393.8 209.7V187.3M392.8 209.7h2M392.8 187.3h2" stroke="#555" stroke-width="0.6" fill="none"/>
<circle cx="308.3" cy="170.2" r="2.4" fill="#000"/>
<circle cx="330.4" cy="173.0" r="2.4" fill="#000"/>
<circle cx="340.0" cy="172.5" r="2.4" fill="#000"/>
<circle cx="362.1" cy="182.2" r="2.4" fill="#000"/>
<circle cx="371.6" cy="187.0" r="2.4" fill="#000"/>
<circle cx="384.2" cy="201.7" r="2.4" fill="#000"/>
<circle cx="393.8" cy="205.5" r="2.4" fill="#000"/>
<circle cx="308.3" cy="181.0" r="2.0" fill="#fff" stroke="#000" stroke-width="0.8"/>
<circle cx="330.4" cy="180.9" r="2.0" fill="#fff" stroke="#000" stroke-width="0.8"/>
<circle cx="340.0" cy="180.5" r="2.0" fill="#fff" stroke="#000" stroke-width="0.8"/>
<circle cx="362.1" cy="180.5" r="2.0" fill="#fff" stroke="#000" stroke-width="0.8"/>
<circle cx="371.6" cy="186.6" r="2.0" fill="#fff" stroke="#000" stroke-width="0.8"/>
<circle cx="384.2" cy="191.9" r="2.0" fill="#fff" stroke="#000" stroke-width="0.8"/>
<circle cx="393.8" cy="198.5" r="2.0" fill="#fff" stroke="#000" stroke-width="0.8"/>
<circle cx="403.3" cy="211.6" r="2.0" fill="#fff" stroke="#000" stroke-width="0.8"/>
<text x="491.6" y="149.9" font-size="8.2" font-weight="bold" text-anchor="middle" fill="#000">CYP3A4</text>
<text x="491.3" y="160.0" font-size="8.2" font-weight="bold" text-anchor="middle" fill="#000">midazolam 1'-hydroxylation</text>
<path d="M445.7 165.3V249.4H540.7" fill="none" stroke="#8c8c8c" stroke-width="0.8"/>
<path d="M443.7 249.4H445.7" stroke="#8c8c8c" stroke-width="0.8"/>
<text x="440.5" y="252.3" font-size="7.2" text-anchor="end" fill="#000">0</text>
<path d="M443.7 235.4H445.7" stroke="#8c8c8c" stroke-width="0.8"/>
<text x="440.5" y="238.3" font-size="7.2" text-anchor="end" fill="#000">20</text>
<path d="M443.7 221.4H445.7" stroke="#8c8c8c" stroke-width="0.8"/>
<text x="440.5" y="224.3" font-size="7.2" text-anchor="end" fill="#000">40</text>
<path d="M443.7 207.4H445.7" stroke="#8c8c8c" stroke-width="0.8"/>
<text x="440.5" y="210.3" font-size="7.2" text-anchor="end" fill="#000">60</text>
<path d="M443.7 193.3H445.7" stroke="#8c8c8c" stroke-width="0.8"/>
<text x="440.5" y="196.2" font-size="7.2" text-anchor="end" fill="#000">80</text>
<path d="M443.7 179.3H445.7" stroke="#8c8c8c" stroke-width="0.8"/>
<text x="440.5" y="182.2" font-size="7.2" text-anchor="end" fill="#000">100</text>
<path d="M443.7 165.3H445.7" stroke="#8c8c8c" stroke-width="0.8"/>
<text x="440.5" y="168.2" font-size="7.2" text-anchor="end" fill="#000">120</text>
<path d="M445.7 249.4V251.9" stroke="#8c8c8c" stroke-width="0.8"/>
<text x="445.7" y="262.0" font-size="7.2" text-anchor="middle" fill="#000">0.1</text>
<path d="M477.4 249.4V251.9" stroke="#8c8c8c" stroke-width="0.8"/>
<text x="477.4" y="262.0" font-size="7.2" text-anchor="middle" fill="#000">1</text>
<path d="M509.0 249.4V251.9" stroke="#8c8c8c" stroke-width="0.8"/>
<text x="509.0" y="262.0" font-size="7.2" text-anchor="middle" fill="#000">10</text>
<path d="M540.7 249.4V251.9" stroke="#8c8c8c" stroke-width="0.8"/>
<text x="540.7" y="262.0" font-size="7.2" text-anchor="middle" fill="#000">100</text>
<text x="493.7" y="272.7" font-size="7.5" text-anchor="middle" fill="#000">AB-PINACA (μM)</text>
<text transform="translate(423.3 207.4) rotate(-90)" font-size="7.4" text-anchor="middle" fill="#000">Uninhibited activity (%)</text>
<polyline points="445.70,182.58 447.28,182.58 448.87,182.59 450.45,182.59 452.03,182.60 453.62,182.61 455.20,182.62 456.78,182.63 458.37,182.64 459.95,182.66 461.53,182.68 463.12,182.70 464.70,182.72 466.28,182.74 467.87,182.77 469.45,182.80 471.03,182.84 472.62,182.89 474.20,182.93 475.78,182.99 477.37,183.05 478.95,183.13 480.53,183.21 482.12,183.30 483.70,183.41 485.28,183.53 486.87,183.67 488.45,183.83 490.03,184.01 491.62,184.22 493.20,184.45 494.78,184.72 496.37,185.01 497.95,185.35 499.53,185.74 501.12,186.17 502.70,186.65 504.28,187.20 505.87,187.81 507.45,188.50 509.03,189.27 510.62,190.12 512.20,191.06 513.78,192.11 515.37,193.25 516.95,194.51 518.53,195.88 520.12,197.36 521.70,198.96 523.28,200.67 524.87,202.49 526.45,204.40 528.03,206.41 529.62,208.50 531.20,210.65 532.78,212.85 534.37,215.07 535.95,217.30 537.53,219.52 539.12,221.71 540.70,223.85" fill="none" stroke="#000" stroke-width="1.05"/>
<polyline points="445.70,182.37 447.28,182.40 448.87,182.42 450.45,182.45 452.03,182.49 453.62,182.53 455.20,182.57 456.78,182.62 458.37,182.67 459.95,182.73 461.53,182.80 463.12,182.88 464.70,182.97 466.28,183.07 467.87,183.19 469.45,183.31 471.03,183.45 472.62,183.62 474.20,183.80 475.78,184.00 477.37,184.23 478.95,184.48 480.53,184.77 482.12,185.09 483.70,185.45 485.28,185.85 486.87,186.29 488.45,186.79 490.03,187.34 491.62,187.95 493.20,188.63 494.78,189.37 496.37,190.19 497.95,191.09 499.53,192.08 501.12,193.15 502.70,194.32 504.28,195.58 505.87,196.94 507.45,198.39 509.03,199.94 510.62,201.58 512.20,203.30 513.78,205.11 515.37,206.99 516.95,208.92 518.53,210.91 520.12,212.93 521.70,214.98 523.28,217.03 524.87,219.07 526.45,221.08 528.03,223.06 529.62,224.99 531.20,226.85 532.78,228.64 534.37,230.35 535.95,231.97 537.53,233.50 539.12,234.93 540.70,236.27" fill="none" stroke="#000" stroke-width="1.05"/>
<path d="M467.8 184.6V177.6M466.8 184.6h2M466.8 177.6h2" stroke="#555" stroke-width="0.6" fill="none"/>
<path d="M499.5 186.4V182.2M498.5 186.4h2M498.5 182.2h2" stroke="#555" stroke-width="0.6" fill="none"/>
<path d="M467.8 193.3V176.4M466.8 193.3h2M466.8 176.4h2" stroke="#555" stroke-width="0.6" fill="none"/>
<path d="M499.5 201.3V181.7M498.5 201.3h2M498.5 181.7h2" stroke="#555" stroke-width="0.6" fill="none"/>
<path d="M531.2 228.3V218.5M530.2 228.3h2M530.2 218.5h2" stroke="#555" stroke-width="0.6" fill="none"/>
<circle cx="445.7" cy="181.8" r="2.4" fill="#000"/>
<circle cx="467.8" cy="181.1" r="2.4" fill="#000"/>
<circle cx="477.4" cy="182.9" r="2.4" fill="#000"/>
<circle cx="499.5" cy="184.3" r="2.4" fill="#000"/>
<circle cx="509.0" cy="188.6" r="2.4" fill="#000"/>
<circle cx="521.6" cy="200.3" r="2.4" fill="#000"/>
<circle cx="531.2" cy="208.3" r="2.4" fill="#000"/>
<circle cx="540.7" cy="223.4" r="2.4" fill="#000"/>
<circle cx="445.7" cy="181.8" r="2.0" fill="#fff" stroke="#000" stroke-width="0.8"/>
<circle cx="467.8" cy="184.9" r="2.0" fill="#fff" stroke="#000" stroke-width="0.8"/>
<circle cx="477.4" cy="184.9" r="2.0" fill="#fff" stroke="#000" stroke-width="0.8"/>
<circle cx="499.5" cy="191.5" r="2.0" fill="#fff" stroke="#000" stroke-width="0.8"/>
<circle cx="509.0" cy="198.7" r="2.0" fill="#fff" stroke="#000" stroke-width="0.8"/>
<circle cx="521.6" cy="216.0" r="2.0" fill="#fff" stroke="#000" stroke-width="0.8"/>
<circle cx="531.2" cy="223.4" r="2.0" fill="#fff" stroke="#000" stroke-width="0.8"/>
<circle cx="540.7" cy="238.4" r="2.0" fill="#fff" stroke="#000" stroke-width="0.8"/>
</svg></body></html>
